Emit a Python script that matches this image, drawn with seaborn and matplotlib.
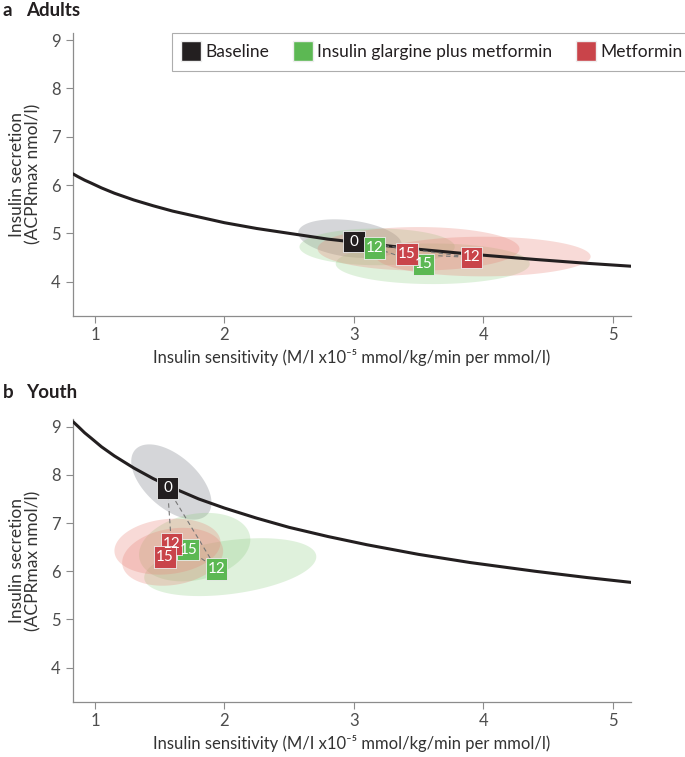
import numpy as np
import pandas as pd
import matplotlib
matplotlib.use("Agg")
import matplotlib.pyplot as plt
from matplotlib.lines import Line2D
import seaborn as sns

# ---- data ----
treatments = ["Baseline", "Insulin glargine plus metformin", "Metformin"]
colors = {"Baseline": "#231f20",
          "Insulin glargine plus metformin": "#5cb853",
          "Metformin": "#c9444a"}
fill_colors = {"Baseline": ("#b9bcc0", 0.6),
               "Insulin glargine plus metformin": ("#8ccc80", 0.27),
               "Metformin": ("#e8877b", 0.3)}

# reference curves (insulin sensitivity, insulin secretion)
curve_x = [0.83, 0.87, 0.92, 0.97, 1.05, 1.15, 1.3, 1.45, 1.6, 1.8, 2.0,
           2.25, 2.5, 2.8, 3.1, 3.5, 3.9, 4.4, 4.8, 5.14]
curve_y_adults = [6.23, 6.17, 6.10, 6.04, 5.94, 5.83, 5.69, 5.57, 5.46, 5.34, 5.22,
                  5.10, 5.00, 4.88, 4.79, 4.67, 4.57, 4.46, 4.38, 4.32]
curve_y_youth = [9.10, 9.00, 8.87, 8.76, 8.58, 8.39, 8.14, 7.92, 7.73, 7.50, 7.31,
                 7.10, 6.91, 6.72, 6.55, 6.35, 6.18, 6.00, 5.87, 5.77]

# group means: treatment, month label, x, y
pt_treat = ["Baseline", "Insulin glargine plus metformin", "Insulin glargine plus metformin",
            "Metformin", "Metformin"]
pt_label = ["0", "12", "15", "12", "15"]
adults_x = [3.00, 3.16, 3.54, 3.91, 3.41]
adults_y = [4.83, 4.70, 4.36, 4.50, 4.57]
youth_x = [1.56, 1.94, 1.72, 1.59, 1.54]
youth_y = [7.73, 6.05, 6.45, 6.57, 6.29]

# spread ellipses: centre x, centre y, half-width x, half-height y, correlation
adults_ell = [(2.97, 4.89, 0.40, 0.40, -0.3),
              (3.18, 4.72, 0.60, 0.38, 0.0),
              (3.61, 4.37, 0.75, 0.42, 0.0),
              (4.00, 4.52, 0.83, 0.41, 0.0),
              (3.50, 4.68, 0.78, 0.45, 0.0)]
youth_ell = [(1.59, 7.85, 0.31, 0.78, -0.55),
             (2.045, 6.085, 0.665, 0.60, 0.36),
             (1.77, 6.50, 0.43, 0.71, 0.22),
             (1.56, 6.51, 0.41, 0.58, 0.15),
             (1.60, 6.30, 0.39, 0.60, 0.2)]

sns.set_style("white")
plt.rcParams["font.family"] = ["Lato", "DejaVu Sans"]

fig = plt.figure(figsize=(6.85, 7.57), dpi=100)
ax_a = fig.add_axes([0.1066, 0.5826, 0.8142, 0.3741])
ax_b = fig.add_axes([0.1066, 0.0727, 0.8142, 0.3734])

grey = "#8c8c8c"
tcol = "#4d4d4d"


def draw_panel(ax, cx, cy, px, py, ells):
    t = np.linspace(0, 2 * np.pi, 200)
    for tr, (ex, ey, hx, hy, r) in zip(pt_treat, ells):
        c, a = fill_colors[tr]
        xs = ex + hx * np.cos(t)
        ys = ey + hy * (r * np.cos(t) + np.sqrt(1 - r * r) * np.sin(t))
        ax.fill(xs, ys, color=c, alpha=a, lw=0, zorder=1)

    sns.lineplot(x=cx, y=cy, ax=ax, color="#231f20", lw=2.2, zorder=3,
                 estimator=None, sort=False)

    df = pd.DataFrame({"treat": pt_treat, "label": pt_label, "x": px, "y": py})
    base = df.iloc[0]
    for tr in treatments[1:]:
        sub = df[df.treat == tr]
        xs = [base.x] + list(sub.x)
        ys = [base.y] + list(sub.y)
        ax.plot(xs, ys, ls=(0, (4, 3)), color="#777777", lw=0.8, zorder=4)

    sns.scatterplot(data=df, x="x", y="y", hue="treat", palette=colors,
                    marker="s", s=240, edgecolor="#eeeeee", linewidth=0.6,
                    legend=False, ax=ax, zorder=5)
    for _, row in df.iterrows():
        ax.text(row.x, row.y, row.label, color="white", fontsize=11,
                ha="center", va="center", zorder=6)

    ax.set_xlim(0.83, 5.14)
    ax.set_ylim(3.29, 9.15)
    ax.set_xticks([1, 2, 3, 4, 5])
    ax.set_yticks([4, 5, 6, 7, 8, 9])
    for s in ["top", "right"]:
        ax.spines[s].set_visible(False)
    for s in ["left", "bottom"]:
        ax.spines[s].set_color(grey)
        ax.spines[s].set_linewidth(0.9)
    ax.tick_params(axis="both", which="both", direction="out", length=5,
                   width=0.8, color=grey, labelcolor=tcol, labelsize=12,
                   left=True, bottom=True, pad=4)
    ax.tick_params(axis="x", pad=3)
    ax.set_xlabel("Insulin sensitivity (M/I x10\u207b\u2075 mmol/kg/min per mmol/l)",
                  fontsize=12, color="#333333", labelpad=4)
    ax.set_ylabel("Insulin secretion\n(ACPRmax nmol/l)", fontsize=12.5,
                  color="#333333", labelpad=7, linespacing=1.0)


draw_panel(ax_a, curve_x, curve_y_adults, adults_x, adults_y, adults_ell)
draw_panel(ax_b, curve_x, curve_y_youth, youth_x, youth_y, youth_ell)

fig.text(0.004, 0.986, "a", fontsize=13.5, weight="bold", color="#231f20", va="center")
fig.text(0.038, 0.986, "Adults", fontsize=13.5, weight="bold", color="#231f20", va="center")
fig.text(0.004, 0.481, "b", fontsize=13.5, weight="bold", color="#231f20", va="center")
fig.text(0.038, 0.481, "Youth", fontsize=13.5, weight="bold", color="#231f20", va="center")

handles = [Line2D([], [], marker="s", ls="none", markersize=14,
                  markerfacecolor=colors[t], markeredgecolor="#eeeeee") for t in treatments]
leg = fig.legend(handles, treatments, loc="upper left", bbox_to_anchor=(0.251, 0.957),
                 ncol=3, frameon=True, fancybox=False, edgecolor="#999999",
                 fontsize=12.5, handlelength=0.9, handletextpad=0.4, columnspacing=1.45,
                 borderpad=0.65, borderaxespad=0, labelcolor="#231f20")
leg.get_frame().set_linewidth(0.8)

fig.savefig("out.png", dpi=100)
